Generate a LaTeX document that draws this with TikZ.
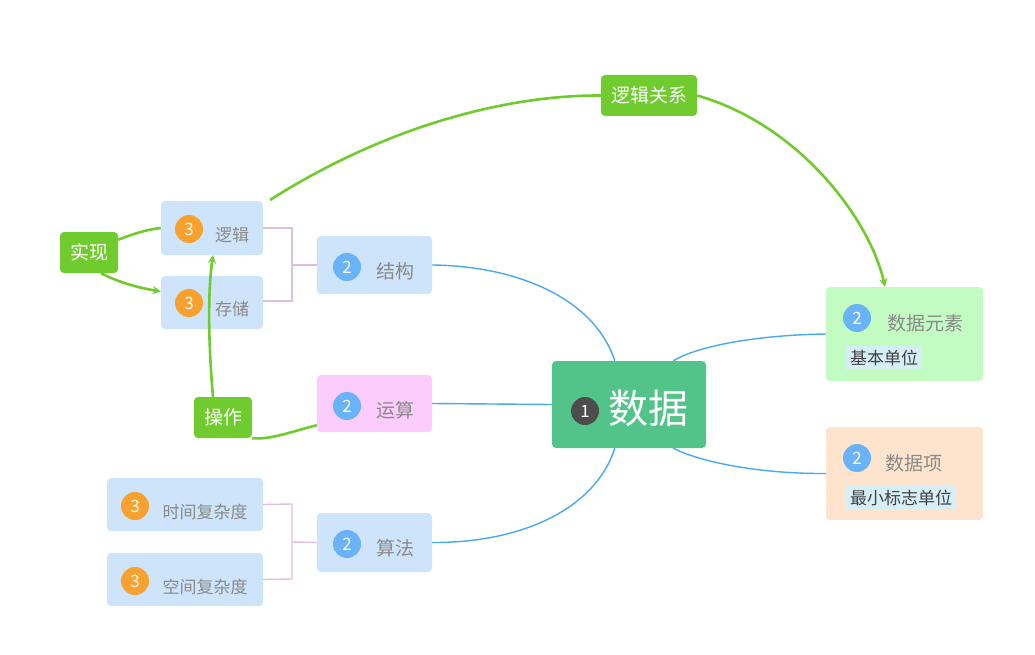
\documentclass[tikz,border=0pt]{standalone}
\usepackage{fontspec}
\setmainfont{Noto Sans CJK SC}
\usetikzlibrary{positioning,calc}
\definecolor{rootgreen}{HTML}{52C48A}
\definecolor{subblue}{HTML}{CDE4FA}
\definecolor{subpink}{HTML}{FCCDFC}
\definecolor{leafgreen}{HTML}{C3FCC3}
\definecolor{leaforange}{HTML}{FEE4CC}
\definecolor{tagblue}{HTML}{D6EEF8}
\definecolor{relgreen}{HTML}{6FCB2E}
\definecolor{linkblue}{HTML}{4AA8EE}
\definecolor{numblue}{HTML}{6AB3F8}
\definecolor{numorange}{HTML}{F9A12E}
\definecolor{txtgray}{HTML}{8A8A8A}
\tikzset{
    topic/.style={rectangle, rounded corners=4pt, minimum height=#1, inner sep=0pt},
    num/.style={circle, fill=#1, text=white, minimum size=28pt, inner sep=0pt, font=\fontsize{17}{17}\selectfont},
    word/.style={text=txtgray, font=\fontsize{19}{19}\selectfont, inner sep=0pt},
    tag/.style={rectangle, fill=tagblue, text=black!75, font=\fontsize{17}{17}\selectfont, inner sep=4pt},
    rel/.style={rectangle, rounded corners=4pt, fill=relgreen, text=white, font=\fontsize{19}{19}\selectfont, minimum height=41pt, inner xsep=10pt, inner ysep=0pt},
    link/.style={draw=linkblue, line width=1.4pt},
    brace/.style={draw=violet!25, line width=1.4pt},
    relarrow/.style={draw=relgreen, line width=2.6pt, ->, >=stealth}
}
\begin{document}
\begin{tikzpicture}[x=1pt,y=-1pt]
    \useasboundingbox (0,0) rectangle (1035,655);
    % Central topic
    \node [topic=87pt, minimum width=154pt, fill=rootgreen] (data) at (629,404.5) {};
    \node [num=black!70] at (585,411) {1};
    \node [text=white, font=\fontsize{40}{40}\selectfont] at (648,408) {数据};

    % Second level
    \node [topic=58pt, minimum width=115pt, fill=subblue] (struct) at (374.5,265) {};
    \node [num=numblue] at (347,267) {2};
    \node [word] at (395,271) {结构};
    \node [topic=57pt, minimum width=115pt, fill=subpink] (oper) at (374.5,403.5) {};
    \node [num=numblue] at (347,406) {2};
    \node [word] at (395,410) {运算};
    \node [topic=59pt, minimum width=115pt, fill=subblue] (algo) at (374.5,542.5) {};
    \node [num=numblue] at (347,544) {2};
    \node [word] at (395,548) {算法};
    \node [topic=94pt, minimum width=157pt, fill=leafgreen] (elem) at (904.5,334) {};
    \node [num=numblue] at (857,318) {2};
    \node [word] at (925,323) {数据元素};
    \node [tag] at (884,358) {基本单位};
    \node [topic=93pt, minimum width=157pt, fill=leaforange] (item) at (904.5,473.5) {};
    \node [num=numblue] at (857,458) {2};
    \node [word] at (914,463) {数据项};
    \node [tag] at (901,498) {最小标志单位};

    % Third level
    \node [topic=54pt, minimum width=102pt, fill=subblue] (logic) at (212,228) {};
    \node [num=numorange] at (189,229) {3};
    \node [word, font=\fontsize{17}{17}\selectfont] at (232,235) {逻辑};
    \node [topic=53pt, minimum width=102pt, fill=subblue] (store) at (212,302.5) {};
    \node [num=numorange] at (189,303) {3};
    \node [word, font=\fontsize{17}{17}\selectfont] at (232,309) {存储};
    \node [topic=53pt, minimum width=156pt, fill=subblue] (timec) at (185,504.5) {};
    \node [num=numorange] at (135,506) {3};
    \node [word, font=\fontsize{17}{17}\selectfont] at (205,512) {时间复杂度};
    \node [topic=53pt, minimum width=156pt, fill=subblue] (spacec) at (185,579.5) {};
    \node [num=numorange] at (135,581) {3};
    \node [word, font=\fontsize{17}{17}\selectfont] at (205,587) {空间复杂度};

    % Relation labels
    \node [rel] (impl) at (89,252.5) {实现};
    \node [rel] (act) at (223,417.5) {操作};
    \node [rel] (lrel) at (649,95.5) {逻辑关系};

    % Connections
    \draw [link] ($(data.north west)+(63,0)$) .. controls (595,300) and (520,266) .. (struct.east);
    \draw [link] (data.west) -- (oper.east);
    \draw [link] ($(data.south west)+(63,0)$) .. controls (595,510) and (520,543) .. (algo.east);
    \draw [link] ($(data.north east)+(-33,0)$) .. controls (700,345) and (760,335) .. (elem.west);
    \draw [link] ($(data.south east)+(-33,0)$) .. controls (700,462) and (760,474) .. (item.west);

    \draw [brace] (struct.west) -- (292,265) (logic.east) -- (292,228) -- (292,301) -- (store.east |- 0,301);
    \draw [brace] (algo.west) -- (292,542) (timec.east) -- (292,504) -- (292,579) -- (spacec.east);

    % Relations
    \draw [relarrow, -] (270,200) .. controls (380,130) and (500,95) .. (lrel.west);
    \draw [relarrow] (lrel.east) .. controls (800,125) and (870,220) .. (elem.north -| 885,0);
    \draw [relarrow, -] ($(impl.north east)+(0,8)$) .. controls (135,233) and (150,229) .. (logic.west);
    \draw [relarrow] ($(impl.south)+(12,0)$) .. controls (120,283) and (140,288) .. ($(store.west)+(0,-11)$);
    \draw [relarrow, -] ($(oper.south west)+(0,-7)$) .. controls (290,432) and (270,440) .. (act.south east);
    \draw [relarrow] (act.north -| 213,0) .. controls (208,340) and (208,290) .. (logic.south -| 213,0);
\end{tikzpicture}
\end{document}
